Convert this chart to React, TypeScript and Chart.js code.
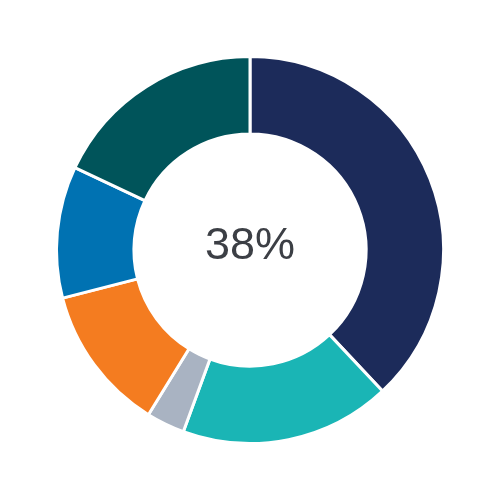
import React, { useEffect, useRef } from "react";
import Chart from "chart.js/auto";

const labels = ["Navy", "Teal", "Gray", "Orange", "Blue", "Green"];
const values = [38, 17.6, 3.2, 12.2, 11, 18];
const colors = ["#1c2b5a", "#1ab5b5", "#a9b3c2", "#f47c20", "#0072b2", "#00545a"];
const centerLabel = "38%";

const centerText = {
  id: "centerText",
  afterDraw(chart: Chart) {
    const { ctx, chartArea } = chart;
    const x = (chartArea.left + chartArea.right) / 2;
    const y = (chartArea.top + chartArea.bottom) / 2;
    ctx.save();
    ctx.fillStyle = "#3c3f45";
    ctx.font = "45px 'Liberation Sans', Arial, sans-serif";
    ctx.textAlign = "center";
    ctx.textBaseline = "middle";
    ctx.fillText(centerLabel, x, y - 3);
    ctx.restore();
  },
};

const App = () => {
  const chartRef = useRef<HTMLCanvasElement>(null);

  useEffect(() => {
    let chart: Chart<"doughnut"> | null = null;
    if (chartRef.current) {
      const ctx = chartRef.current.getContext("2d");
      if (!ctx) return;
      chart = new Chart(ctx, {
        type: "doughnut",
        data: {
          labels,
          datasets: [
            {
              data: values,
              backgroundColor: colors,
              borderColor: "#ffffff",
              borderWidth: 3,
            },
          ],
        },
        options: {
          animation: false,
          responsive: false,
          cutout: "60%",
          layout: { padding: 55 },
          plugins: {
            legend: { display: false },
            tooltip: { enabled: false },
          },
        },
        plugins: [centerText],
      });
    }
    return () => {
      if (chart) chart.destroy();
    };
  }, []);

  return (
    <div style={{ position: "absolute", left: 0, top: 0, width: 500, height: 500 }}>
      <canvas ref={chartRef} width={500} height={500} />
    </div>
  );
};

export default App;
